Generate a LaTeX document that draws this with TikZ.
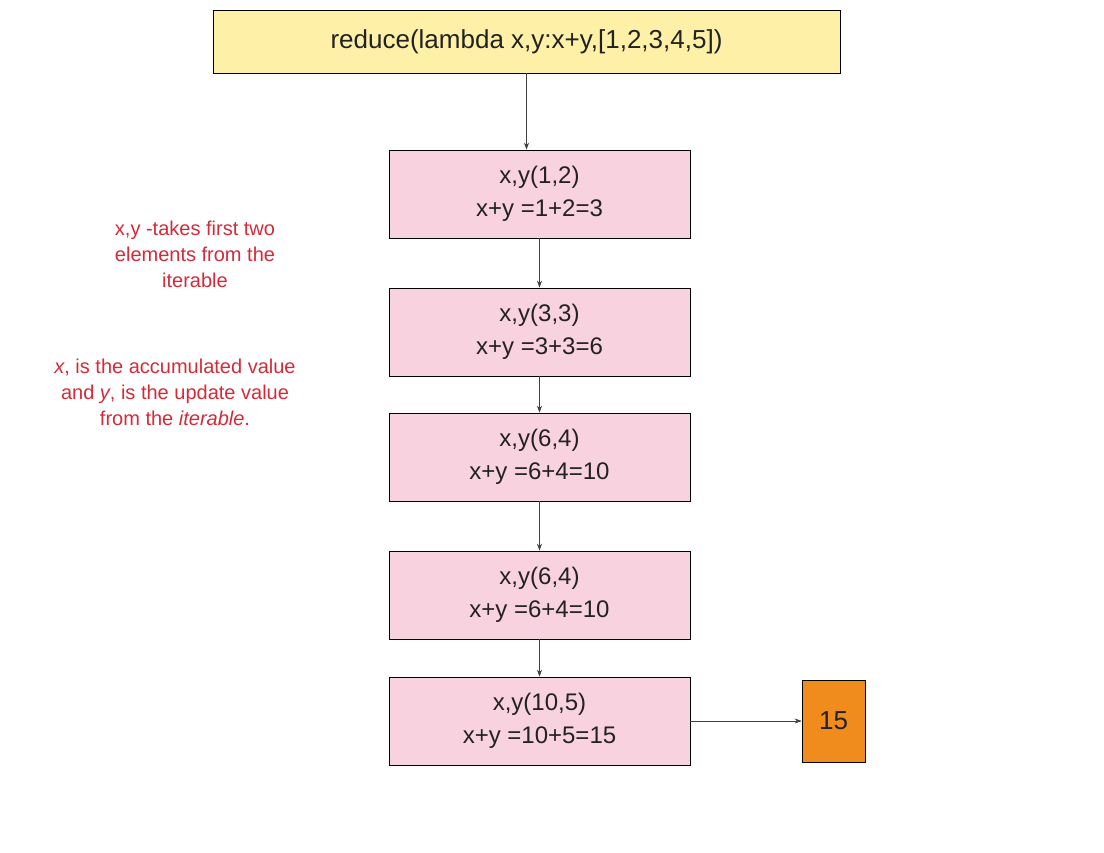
\documentclass[tikz,border=0pt]{standalone}
\usepackage{fontspec}
\setmainfont{Liberation Sans}
\usetikzlibrary{arrows.meta}
\definecolor{ybox}{HTML}{FFF0A8}
\definecolor{pbox}{HTML}{F8D3DF}
\definecolor{obox}{HTML}{F08C1E}
\definecolor{rtext}{HTML}{D22B3A}
\definecolor{tx}{HTML}{222222}
\begin{document}
\begin{tikzpicture}[x=1pt,y=-1pt,
  stepbox/.style={draw=black,line width=0.7pt,fill=pbox,minimum width=301pt,minimum height=88pt,align=center,font=\fontsize{24}{33}\selectfont,text=tx,inner sep=0pt},
  conn/.style={-{Stealth[length=7pt,width=5pt]},line width=0.6pt,draw=black!75},
  note/.style={text=rtext,align=center,font=\fontsize{20}{26}\selectfont}]
\useasboundingbox (0,0) rectangle (1104,853);
\node[draw=black,line width=0.7pt,fill=ybox,minimum width=627pt,minimum height=63pt,font=\fontsize{26}{30}\selectfont,text=tx,inner sep=0pt] (top) at (526.5,41.5) {reduce(lambda x,y:x+y,[1,2,3,4,5])};
\node[stepbox] (s1) at (539.5,194) {x,y(1,2)\\x+y =1+2=3};
\node[stepbox] (s2) at (539.5,332) {x,y(3,3)\\x+y =3+3=6};
\node[stepbox] (s3) at (539.5,457) {x,y(6,4)\\x+y =6+4=10};
\node[stepbox] (s4) at (539.5,595) {x,y(6,4)\\x+y =6+4=10};
\node[stepbox] (s5) at (539.5,721) {x,y(10,5)\\x+y =10+5=15};
\node[draw=black,line width=0.7pt,fill=obox,minimum width=63pt,minimum height=82pt,font=\fontsize{26}{30}\selectfont,text=tx,inner sep=0pt] (res) at (833.5,721) {15};
\draw[conn] (top.south) -- (top.south |- s1.north);
\draw[conn] (s1) -- (s2);
\draw[conn] (s2) -- (s3);
\draw[conn] (s3) -- (s4);
\draw[conn] (s4) -- (s5);
\draw[conn] (s5) -- (res);
\node[note] (n1) at (195,254) {x,y -takes first two\\elements from the\\iterable};
\node[note] (n2) at (175,392) {\textit{x}, is the accumulated value\\and \textit{y}, is the update value\\from the \textit{iterable}.};
\end{tikzpicture}
\end{document}
